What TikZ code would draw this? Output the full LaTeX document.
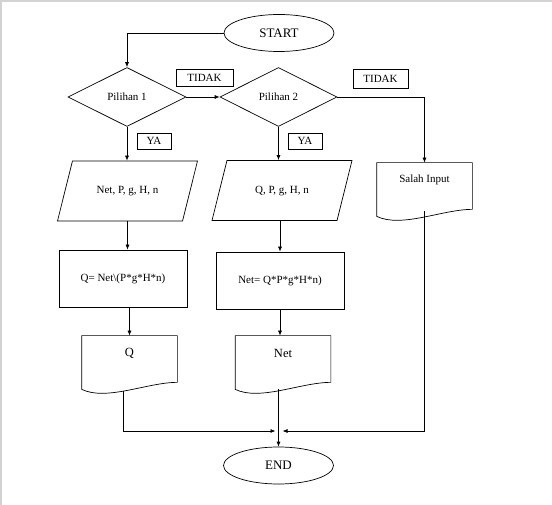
\documentclass[tikz,border=0pt]{standalone}
\usepackage{fontspec}
\setmainfont{Liberation Serif}
\usetikzlibrary{shapes.geometric,arrows.meta,calc}

\tikzset{
  >={Latex[length=5pt,width=4pt]},
  term/.style={draw, ellipse, minimum width=110pt, minimum height=37pt, inner sep=0pt, font=\fontsize{13}{15}\selectfont},
  choice/.style={draw, diamond, minimum width=118pt, minimum height=59pt, inner sep=0pt, font=\fontsize{11}{13}\selectfont},
  tag/.style={draw, rectangle, inner sep=0pt, font=\fontsize{11}{13}\selectfont},
  io/.style={draw, trapezium, trapezium left angle=76, trapezium right angle=104, trapezium stretches body=true,
    minimum width=140pt, inner xsep=0pt, inner ysep=24pt, text height=9pt, text depth=3pt, font=\fontsize{11}{13}\selectfont},
  proc/.style={draw, rectangle, minimum width=128pt, minimum height=57pt, inner sep=0pt, font=\fontsize{11}{13}\selectfont},
  doc/.style={rectangle, minimum width=95pt, minimum height=34pt, inner sep=0pt},
}

\begin{document}
\begin{tikzpicture}[x=1pt, y=-1pt, line width=0.7pt]
			  \useasboundingbox (0,0) rectangle (552,505);
			  \draw[gray!35, line width=1.2pt] (0,1) -- (552,1);
			  \draw[gray!35, line width=1.2pt] (1,0) -- (1,505);
			
			  % Terminals
			  \node[term] (start) at (279,33) {START};
			  \node[term] (end) at (278.5,465.5) {END};
			
			  % Decisions
			  \node[choice] (pil1) at (127,97) {Pilihan 1};
			  \node[choice, minimum width=117pt] (pil2) at (278.5,97) {Pilihan 2};
			  \node[tag, minimum width=57pt, minimum height=17pt] (tidak1) at (204.5,77.5) {TIDAK};
			  \node[tag, minimum width=55pt, minimum height=19pt] (tidak2) at (380.5,78.5) {TIDAK};
			  \node[tag, minimum width=34pt, minimum height=16pt] (ya1) at (154,141) {YA};
			  \node[tag, minimum width=34pt, minimum height=16pt] (ya2) at (305,141) {YA};
			
			  % Inputs and formulas
			  \node[io] (in1) at (127.5,191) {Net, P, g, H, n};
			  \node[io] (in2) at (282,190.5) {Q, P, g, H, n};
			  \node[proc] (calc1) at (123,278.5) {Q= Net\textbackslash(P*g*H*n)};
			  \node[proc] (calc2) at (280,280.5) {Net= Q*P*g*H*n)};
			
			  % Outputs (document shapes)
			  \node[doc, font=\fontsize{12.5}{14}\selectfont] (outq) at (129.5,353) {Q};
			  \node[doc, font=\fontsize{12.5}{14}\selectfont] (outnet) at (283,353) {Net};
			  \node[doc, font=\fontsize{11}{13}\selectfont] (err) at (424.5,180) {Salah Input};
			  \foreach \d in {outq,outnet,err}
			    \draw (\d.north west) -- (\d.north east) -- ($(\d.south east)+(0,12)$)
			      .. controls +(-30,0) and +(25,12) .. ($(\d.south west)+(0,19)$) -- cycle;
			
			  % Flow
			  \draw[->] (start.west) -| (pil1.north);
			  \draw[->] (pil1.east) -- (pil2.west);
			  \draw[->] (pil2.east) -| (err.north);
			  \draw[->] (pil1.south) -- (pil1.south |- in1.north);
			  \draw[->] (pil2.south) -- (pil2.south |- in2.north);
			  \draw[->] (in1.south) -- (in1.south |- calc1.north);
			  \draw[->] (calc2.north |- in2.south) -- (calc2.north);
			  \draw[->] (outq.north |- calc1.south) -- (outq.north);
			  \draw[->] (calc2.south) -- (calc2.south |- outnet.north);
			
			  % Merge to END
			  \coordinate (mergeL) at (275.5,431);
			  \coordinate (mergeR) at (282.5,431);
			  \draw[->] (outq.south) ++(-6.5,21) |- (mergeL);
			  \draw[->] (end.north |- outnet.south) ++(0,19) -- (end.north);
			  \draw[->] (err.south) ++(0,14) |- (mergeR);
			\end{tikzpicture}
\end{document}
